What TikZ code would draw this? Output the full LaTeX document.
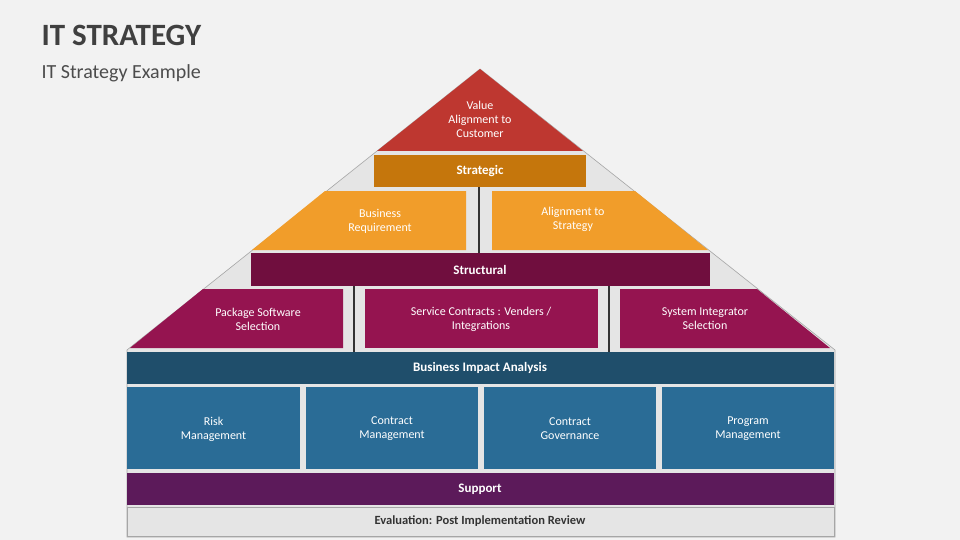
\documentclass[tikz,border=0pt]{standalone}
\usepackage{fontspec}
\setmainfont{Carlito}
\definecolor{cred}{RGB}{190,55,48}
\definecolor{cstrat}{RGB}{197,118,12}
\definecolor{corange}{RGB}{241,157,42}
\definecolor{cstruct}{RGB}{112,14,62}
\definecolor{cmag}{RGB}{149,20,80}
\definecolor{cbia}{RGB}{31,78,107}
\definecolor{cblue}{RGB}{42,108,150}
\definecolor{csup}{RGB}{92,26,90}
\begin{document}
\begin{tikzpicture}[x=1pt,y=-1pt,
  lbl/.style={text=white,font=\fontsize{12}{14}\selectfont,align=center},
  bar/.style={text=white,font=\fontsize{13}{15}\selectfont\bfseries},
  sep/.style={draw=black!80,line width=1.5pt}]
\fill[black!5] (0,0) rectangle (960,540);
\useasboundingbox (0,0) rectangle (960,540);
\filldraw[fill=black!10,draw=black!35,line width=0.6pt] (480,69) -- (835,350) -- (835,537) -- (127,537) -- (127,350) -- cycle;
\node[anchor=west,text=black!75,font=\fontsize{31}{34}\selectfont\bfseries] (title) at (38,35) {IT STRATEGY};
\node[anchor=west,text=black!70,font=\fontsize{20}{22}\selectfont] (sub) at (38,73) {IT Strategy Example};
\fill[cred] (480,69) -- (583,151) -- (377,151) -- cycle;
\node[lbl] (val) at (480,119) {Value\\Alignment to\\Customer};
\fill[cstrat] (374,155) rectangle (586,187);
\node[bar] (strat) at (480,171) {Strategic};
\coordinate (s1) at (479,187); \coordinate (s2) at (479,253);
\draw[sep] (s1) -- (s2);
\fill[corange] (325,191) -- (466,191) -- (466,250) -- (252,250) -- cycle;
\fill[corange] (492,191) -- (635,191) -- (708,250) -- (492,250) -- cycle;
\node[lbl] (br) at (380,221) {Business\\Requirement};
\node[lbl] (as) at (573,219) {Alignment to\\Strategy};
\fill[cstruct] (251,253) rectangle (710,286);
\node[bar] (struct) at (480,270) {Structural};
\coordinate (p1) at (354,286); \coordinate (p2) at (354,352);
\coordinate (q1) at (609,286); \coordinate (q2) at (609,352);
\draw[sep] (p1) -- (p2); \draw[sep] (q1) -- (q2);
\fill[cmag] (203,289) -- (343,289) -- (343,348) -- (130,348) -- cycle;
\fill[cmag] (365,289) rectangle (598,348);
\fill[cmag] (620,289) -- (757,289) -- (830,348) -- (620,348) -- cycle;
\node[lbl] (pk) at (258,319) {Package Software\\Selection};
\node[lbl] (sc) at (481,319) {Service Contracts : Venders /\\Integrations};
\node[lbl] (si) at (705,319) {System Integrator\\Selection};
\fill[cbia] (127,352) rectangle (834,384);
\node[bar] (bia) at (480,368) {Business Impact Analysis};
\foreach \a/\b/\t [count=\i] in {127/300/{Risk\\Management},306/478/{Contract\\Management},484/656/{Contract\\Governance},662/834/{Program\\Management}}{
  \fill[cblue] (\a,387) rectangle (\b,469);
  \node[lbl] (b\i) at ({(\a+\b)/2},429) {\t};
}
\fill[csup] (127,473) rectangle (834,505);
\node[bar] (sup) at (480,489) {Support};
\filldraw[fill=black!10,draw=black!35] (127,507) rectangle (834,536);
\node[text=black!80,font=\fontsize{12.5}{14}\selectfont\bfseries] (ev) at (480,521) {Evaluation: Post Implementation Review};
\end{tikzpicture}
\end{document}
